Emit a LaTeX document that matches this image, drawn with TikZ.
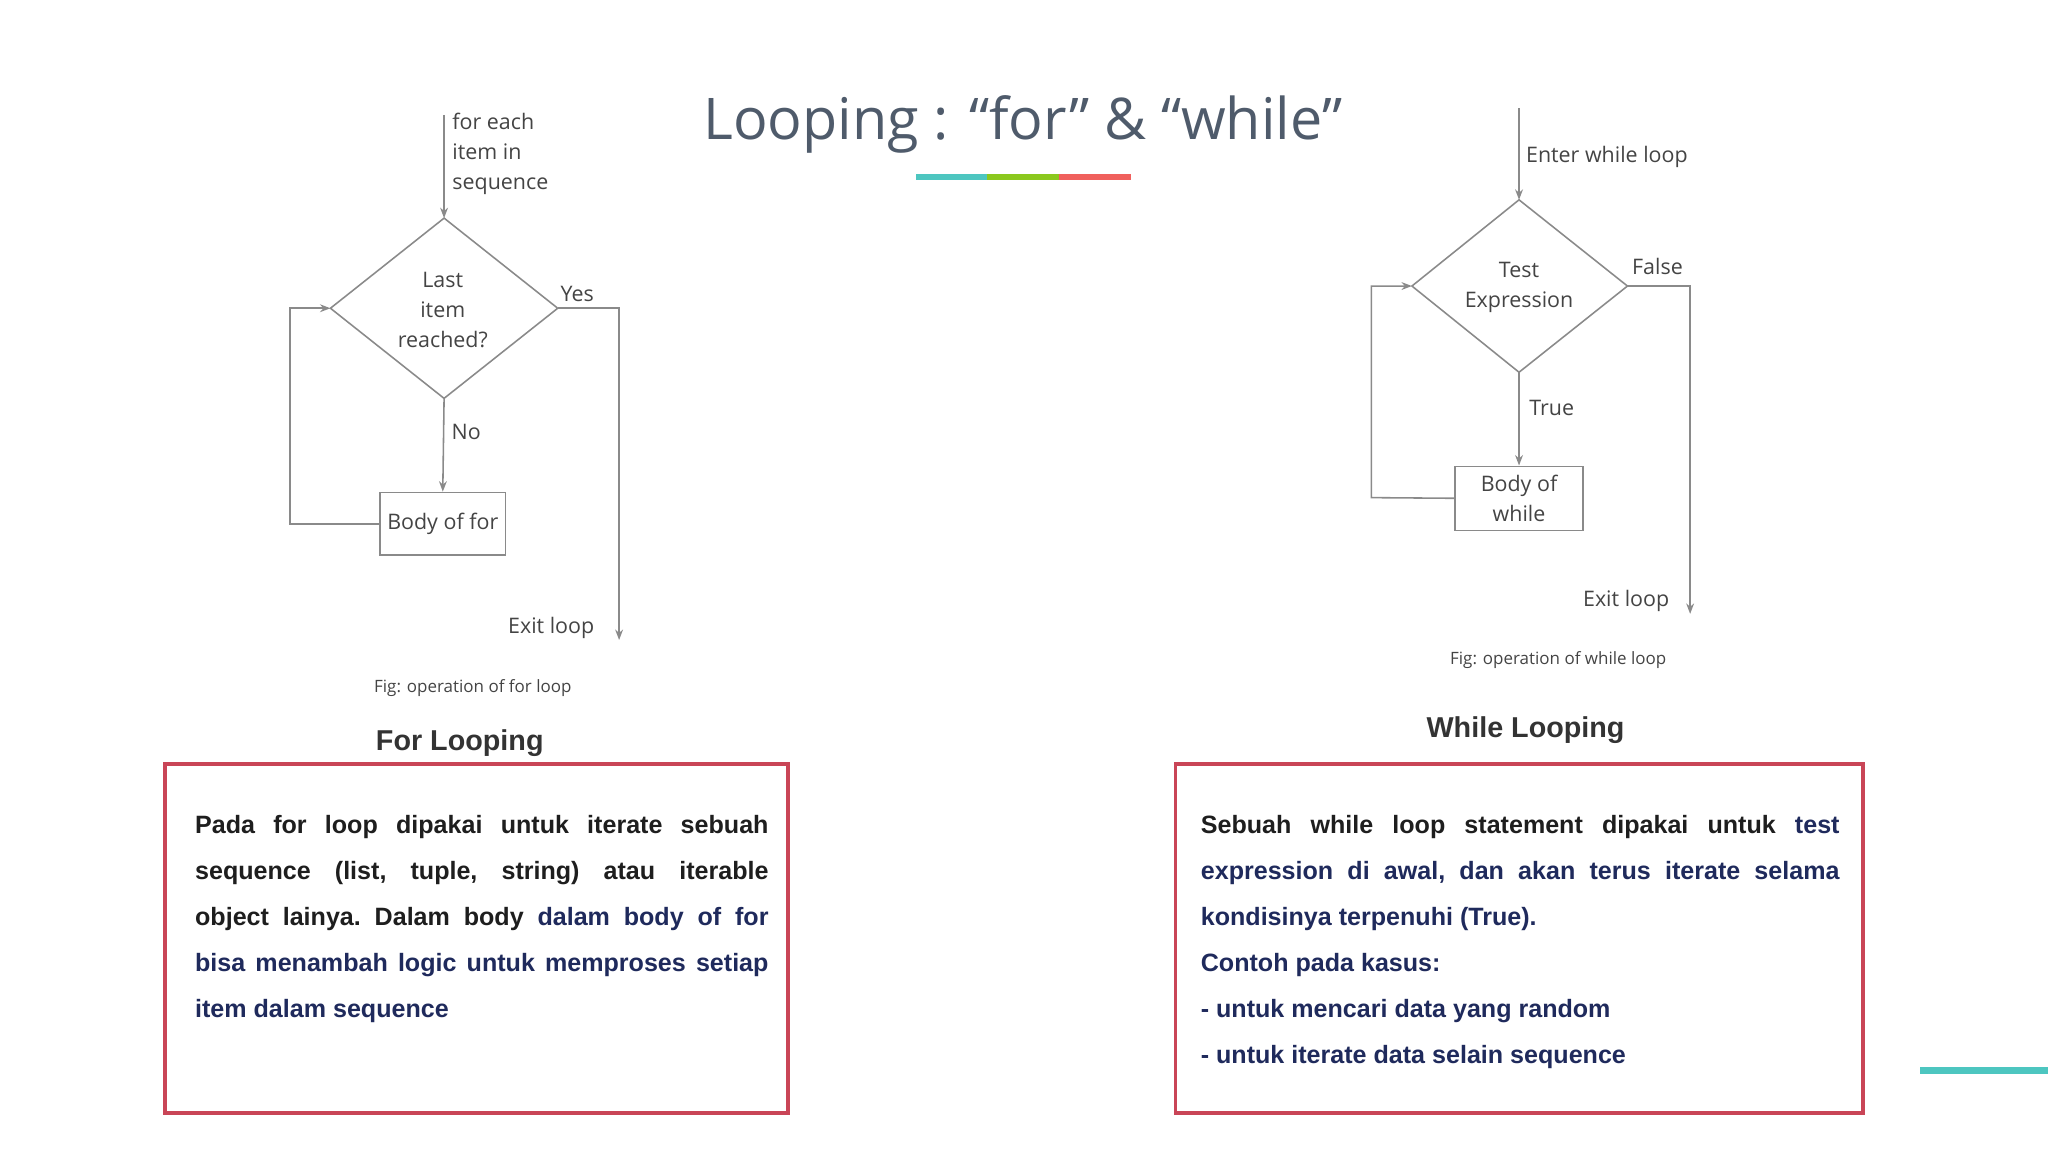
\documentclass[tikz,border=0pt]{standalone}
\usepackage{fontspec}
\setmainfont{Liberation Sans}
\newfontfamily\osans{Open Sans}
\usetikzlibrary{arrows.meta}
\newcommand\nohyphset{\hyphenpenalty=10000\relax\exhyphenpenalty=10000\relax\frenchspacing}
\definecolor{fgray}{HTML}{8A8A8A}
\definecolor{ftext}{HTML}{444444}
\definecolor{navy}{HTML}{1F2A5C}
\definecolor{dtext}{HTML}{1E1E1E}
\definecolor{boxred}{HTML}{C94557}
\definecolor{ttl}{HTML}{4F5B6B}
\definecolor{cteal}{HTML}{4DC6C0}
\definecolor{cgreen}{HTML}{8BC81E}
\definecolor{cred}{HTML}{F0605D}
\tikzset{
 fl/.style={draw=fgray,line width=0.6pt},
 fla/.style={fl,-{Stealth[length=4pt,width=3pt]}},
 ft/.style={font=\osans\fontsize{8.2}{11.5}\selectfont,text=ftext,inner sep=0pt},
 bodybox/.style={draw=fgray,line width=0.6pt,inner sep=0pt,font=\osans\fontsize{8.2}{11.5}\selectfont,text=ftext,align=center},
 figcap/.style={font=\osans\fontsize{6.5}{8}\selectfont,text=ftext},
 hd/.style={font=\bfseries\fontsize{11}{12}\selectfont,text=black!80},
 rbox/.style={draw=boxred,line width=1.5pt},
 para/.style={font=\bfseries\fontsize{9.6}{17.6}\selectfont,align=justify,inner sep=0pt,anchor=north west}
}
\begin{document}
\begin{tikzpicture}[x=0.5pt,y=-0.5pt]
\useasboundingbox (0,0) rectangle (1568,882);
% title
\node[font=\osans\fontsize{22}{26}\selectfont,text=ttl] (title) at (783,95) {Looping : “for” \& “while”};
\fill[cteal] (701,133) rectangle (756,138);
\fill[cgreen] (756,133) rectangle (811,138);
\fill[cred] (811,133) rectangle (866,138);
\fill[cteal] (1470,817) rectangle (1568,822);

% ---- for flowchart
\coordinate (fs) at (340,88);
\coordinate (ft) at (340,167);
\coordinate (fr) at (427,236);
\coordinate (fb) at (340,305);
\coordinate (fl) at (253,236);
\coordinate (fc1) at (474,236);
\coordinate (fend) at (474,490);
\coordinate (fc2) at (222,401);
\coordinate (fc3) at (222,236);
\draw[fl] (ft) -- (fr) -- (fb) -- (fl) -- cycle;
\node[ft,align=center] (fq) at (339,237) {Last\\item\\reached?};
\node[ft,align=left,anchor=north west] (fe) at (346,86) {for each\\item in\\sequence};
\draw[fla] (fs) -- (ft);
\node[bodybox,minimum width=48pt,minimum height=24pt] (fbody) at (339,401) {Body of for};
\draw[fla] (fb) -- (fbody.north);
\node[ft] (fno) at (357,331) {No};
\draw[fla] (fr) -- (fc1) -- (fend);
\node[ft] (fyes) at (442,225) {Yes};
\node[ft] (fexit) at (422,481) {Exit loop};
\draw[fla] (fbody.west) -- (fc2) -- (fc3) -- (fl);
\node[figcap] (fcap) at (362,527) {Fig: operation of for loop};
\node[hd] (fhd) at (352,569) {For Looping};
\draw[rbox] (126,585) rectangle (603,852);
\node[para,text width=219.5pt,text=dtext] (fpar) at (149,624) {\nohyphset Pada for loop dipakai untuk iterate sebuah\linebreak sequence (list, tuple, string) atau iterable\linebreak object lainya. Dalam body \textcolor{navy}{dalam body of for\linebreak bisa menambah logic untuk memproses setiap\linebreak item dalam sequence}};

% ---- while flowchart
\coordinate (ws) at (1163,83);
\coordinate (wt) at (1163,153);
\coordinate (wr) at (1246,219);
\coordinate (wb) at (1163,285);
\coordinate (wl) at (1081,219);
\coordinate (wc1) at (1294,219);
\coordinate (wend) at (1294,470);
\coordinate (wc2) at (1050,381);
\coordinate (wc3) at (1050,219);
\draw[fl] (wt) -- (wr) -- (wb) -- (wl) -- cycle;
\node[ft,align=center] (wq) at (1163,220) {Test\\Expression};
\draw[fla] (ws) -- (wt);
\node[ft,anchor=west] (went) at (1168,120) {Enter while loop};
\node[bodybox,minimum width=49pt,minimum height=24.5pt] (wbody) at (1163,381.5) {Body of\\while};
\draw[fla] (wb) -- (wbody.north);
\node[ft] (wtrue) at (1188,312) {True};
\draw[fla] (wr) -- (wc1) -- (wend);
\node[ft] (wfalse) at (1269,204) {False};
\node[ft] (wexit) at (1245,460) {Exit loop};
\draw[fla] (wbody.west) -- (wc2) -- (wc3) -- (wl);
\node[figcap] (wcap) at (1193,505) {Fig: operation of while loop};
\node[hd] (whd) at (1168,559) {While Looping};
\draw[rbox] (900,585) rectangle (1426,852);
\node[para,text width=244.5pt,text=navy] (wpar) at (919,624) {\nohyphset\textcolor{dtext}{Sebuah while loop statement dipakai untuk} test\linebreak expression di awal, dan akan terus iterate selama\linebreak kondisinya terpenuhi (True).\\Contoh pada kasus:\\- untuk mencari data yang random\\- untuk iterate data selain sequence};
\end{tikzpicture}
\end{document}
